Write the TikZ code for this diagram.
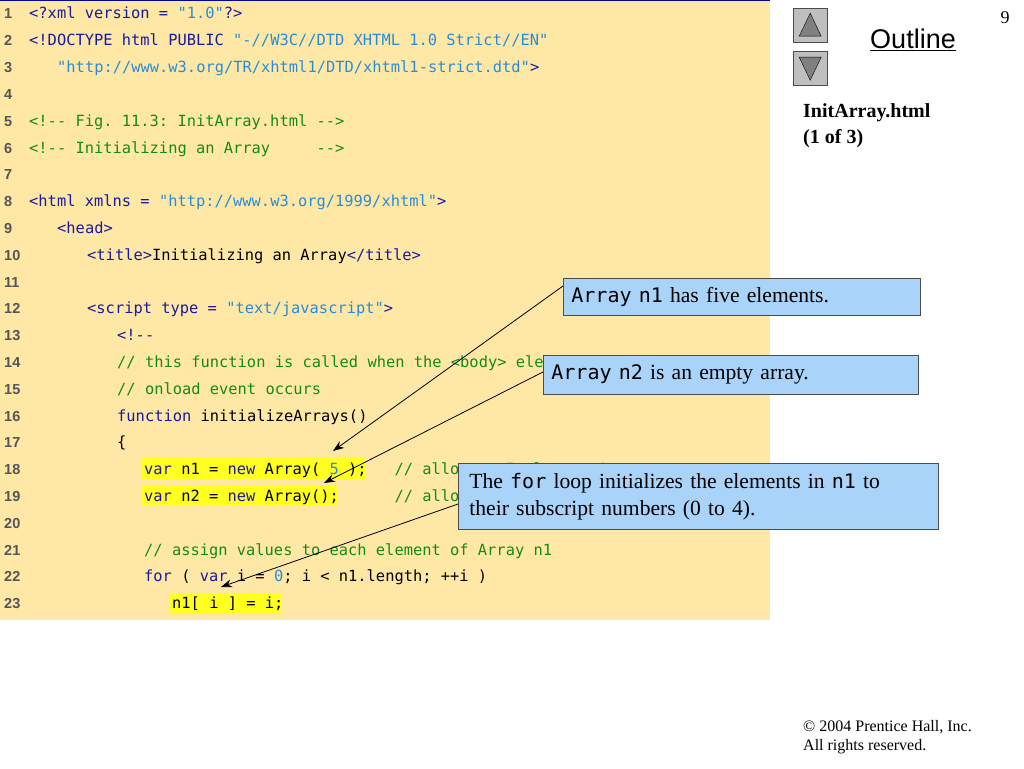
\documentclass[tikz,border=0pt]{standalone}
\usepackage{fontspec}
\setmainfont{Liberation Serif}
\setsansfont{Liberation Sans}
\setmonofont{DejaVu Sans Mono}
\usetikzlibrary{arrows.meta,calc}
\definecolor{codebg}{HTML}{FFE8A6}
\definecolor{kwc}{HTML}{1A1AA0}
\definecolor{stc}{HTML}{2A8CD8}
\definecolor{cmc}{HTML}{168A16}
\definecolor{numc}{HTML}{555555}
\definecolor{hl}{HTML}{FFFF20}
\definecolor{callbg}{HTML}{A9D3F9}
\newcommand{\kw}[1]{\textcolor{kwc}{#1}}
\newcommand{\st}[1]{\textcolor{stc}{#1}}
\newcommand{\cm}[1]{\textcolor{cmc}{#1}}
\newcommand{\mt}[1]{{\fontsize{20}{22}\ttfamily #1}}
\begin{document}
\begin{tikzpicture}[x=1pt,y=-1pt,
  code/.style={anchor=base west,inner sep=0pt,font=\fontsize{15.4}{18}\ttfamily},
  num/.style={anchor=base west,inner sep=0pt,font=\fontsize{14.5}{18}\sffamily\bfseries,text=numc},
  callout/.style={draw=black!70,fill=callbg,line width=0.8pt,anchor=north west,inner sep=0pt,text width=#1,font=\fontsize{21.6}{27}\selectfont,align=left},
  arr/.style={draw=black,line width=0.8pt,-{Stealth[length=11pt,width=8pt]}},
  hlbox/.style={fill=hl,draw=none}]
\useasboundingbox (0,0) rectangle (1024,768);
\fill[codebg] (0,0) rectangle (770,620);
\draw[blue!60!black,line width=0.6pt] (0,0.3) -- (770,0.3);
% highlights
\fill[hl] (142,458) rectangle (366,479);
\fill[hl] (142,485) rectangle (337,506);
\fill[hl] (170,593) rectangle (282,614);
% line numbers
\foreach \i in {1,...,23} {\node[num] (n\i) at (4,{19+(\i-1)*26.8}) {\i};}
\def\cx{29}
\node[code] (l1) at (\cx,19) {\kw{<?xml version = }\st{"1.0"}\kw{?>}};
\node[code] (l2) at (\cx,45.8) {\kw{<!DOCTYPE html PUBLIC }\st{"-//W3C//DTD XHTML 1.0 Strict//EN"}};
\node[code] (l3) at (57,72.6) {\st{"http://www.w3.org/TR/xhtml1/DTD/xhtml1-strict.dtd"}\kw{>}};
\node[code] (l5) at (\cx,126.2) {\cm{<!-- Fig. 11.3: InitArray.html -->}};
\node[code] (l6) at (\cx,153) {\cm{<!-- Initializing an Array ~~~~-->}};
\node[code] (l8) at (\cx,206.6) {\kw{<html xmlns = }\st{"http://www.w3.org/1999/xhtml"}\kw{>}};
\node[code] (l9) at (57,233.4) {\kw{<head>}};
\node[code] (l10) at (87,260.2) {\kw{<title>}Initializing an Array\kw{</title>}};
\node[code] (l12) at (87,313.8) {\kw{<script type = }\st{"text/javascript"}\kw{>}};
\node[code] (l13) at (117,340.6) {\kw{<!--}};
\node[code] (l14) at (117,367.4) {\cm{// this function is called when the <body> element's}};
\node[code] (l15) at (117,394.2) {\cm{// onload event occurs}};
\node[code] (l16) at (117,421) {\kw{function} initializeArrays()};
\node[code] (l17) at (117,447.8) {\{};
\node[code] (l18) at (144,474.6) {\kw{var} n1 = \kw{new} Array( \st{5} ); ~~\cm{// allocate 5-element Array}};
\node[code] (l19) at (144,501.4) {\kw{var} n2 = \kw{new} Array(); ~~~~~\cm{// allocate empty Array}};
\node[code] (l21) at (144,555) {\cm{// assign values to each element of Array n1}};
\node[code] (l22) at (144,581.8) {\kw{for} ( \kw{var} i = \st{0}; i < n1.length; ++i )};
\node[code] (l23) at (172,608.6) {n1[ i ] = i;};
% callouts
\node[callout=357pt,minimum height=37pt] (c1) at (563,278) {\hspace*{8pt}\mt{Array n1} has five elements.};
\node[callout=375pt,minimum height=39pt] (c2) at (543,355) {\hspace*{8pt}\mt{Array n2} is an empty array.};
\node[callout=480pt,minimum height=66pt] (c3) at (458,463) {\hspace*{11pt}The \mt{for} loop initializes the elements in \mt{n1} to\\\hspace*{11pt}their subscript numbers (0 to 4).};
\coordinate (t1) at (333,451);
\coordinate (t2) at (324,483);
\coordinate (t3) at (221,587);
\draw[arr] (c1.west |- 0,286) -- (t1);
\draw[arr] (c2.west |- 0,372) -- (t2);
\draw[arr] (c3.west |- 0,504) -- (t3);
% right panel
\node[draw=black!70,fill=black!25,minimum size=34pt,inner sep=0pt,anchor=north west] (up) at (793,8) {};
\fill[black!50,draw=black] ($(up.center)+(0,-12)$) -- ($(up.center)+(-11,11)$) -- ($(up.center)+(11,11)$) -- cycle;
\node[draw=black!70,fill=black!25,minimum size=34pt,inner sep=0pt,anchor=north west] (down) at (793,51) {};
\fill[black!50,draw=black] ($(down.center)+(0,12)$) -- ($(down.center)+(-11,-11)$) -- ($(down.center)+(11,-11)$) -- cycle;
\node[font=\fontsize{27}{30}\sffamily,inner sep=0pt] (out) at (913,40) {\underline{Outline}};
\node[font=\fontsize{18}{20}\selectfont,inner sep=0pt] (pg) at (1005,18) {9};
\node[font=\fontsize{20}{26}\selectfont\bfseries,anchor=north west,inner sep=0pt,align=left] (fn) at (803,103) {InitArray.html\\(1 of 3)};
\node[font=\fontsize{16}{19}\selectfont,anchor=north west,inner sep=0pt,align=left] (cp) at (803,720) {\copyright{} 2004 Prentice Hall, Inc.\\All rights reserved.};
\end{tikzpicture}
\end{document}
